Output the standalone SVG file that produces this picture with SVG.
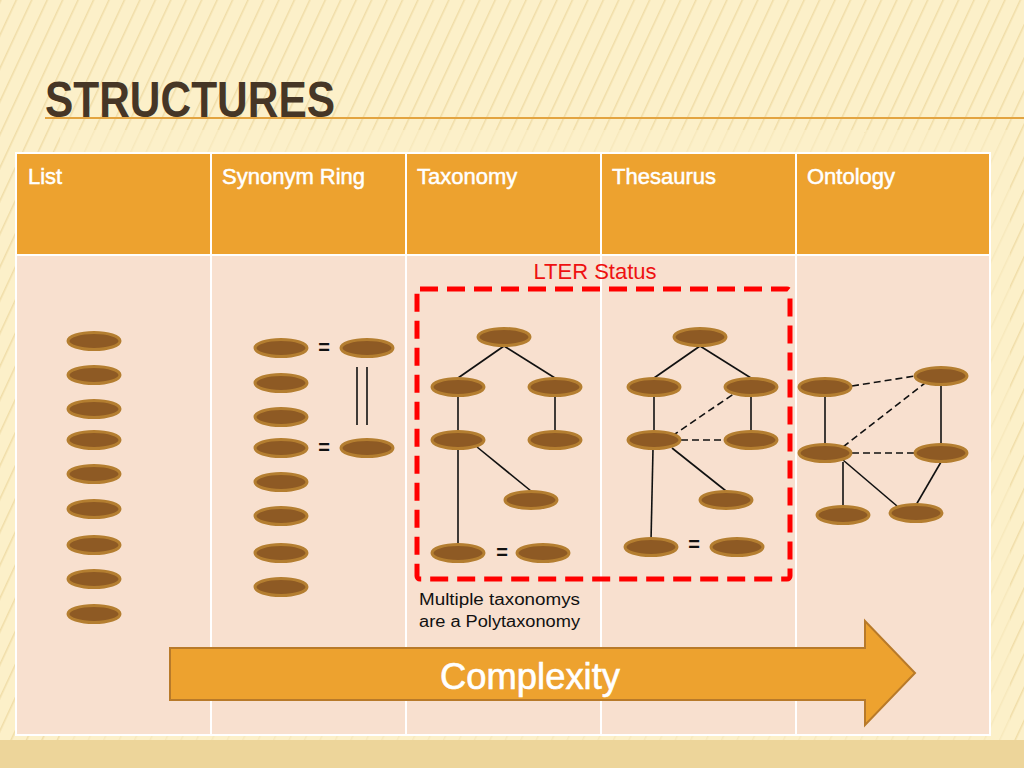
<svg xmlns="http://www.w3.org/2000/svg" width="1024" height="768" viewBox="0 0 1024 768">
<defs>
<pattern id="stripes" width="14" height="14" patternUnits="userSpaceOnUse" patternTransform="rotate(25)">
<rect width="14" height="14" fill="#FCF0C9"/>
<line x1="0" y1="0" x2="0" y2="14" stroke="#F0DDA8" stroke-width="3"/>
</pattern>
<style>
.node{fill:#8E5A24;stroke:#B47E30;stroke-width:3}
.hdr{font-family:"Liberation Sans",Arial,sans-serif;font-size:22px;fill:#FFFFFF;stroke:#FFFFFF;stroke-width:0.5}
.ln{stroke:#111;stroke-width:1.6;fill:none}
.dl{stroke:#111;stroke-width:1.6;fill:none;stroke-dasharray:7 4}
.eq{font-family:"Liberation Sans",Arial,sans-serif;font-size:20px;font-weight:bold;fill:#111;text-anchor:middle}
</style>
</defs>
<rect x="0" y="0" width="1024" height="768" fill="url(#stripes)"/>
<rect x="60" y="130" width="950" height="610" fill="#FCF0C9" opacity="0.6"/>
<rect x="0" y="740" width="1024" height="28" fill="#EDD59A"/>
<g id="title">
<line x1="45" y1="118" x2="1024" y2="118" stroke="#E3A440" stroke-width="2"/>
<text x="45" y="117" font-family="'Liberation Sans',Arial,sans-serif" font-weight="bold" font-size="50" fill="#463626" textLength="290" lengthAdjust="spacingAndGlyphs">STRUCTURES</text>
</g>
<g id="table">
<rect x="16" y="153" width="974" height="102" fill="#EDA22F"/>
<rect x="16" y="255" width="974" height="480" fill="#F8E0CF"/>
<g stroke="#FFFFFF" stroke-width="2">
<rect x="16" y="153" width="974" height="582" fill="none"/>
<line x1="16" y1="255" x2="990" y2="255"/>
<line x1="211" y1="153" x2="211" y2="735"/>
<line x1="406" y1="153" x2="406" y2="735"/>
<line x1="601" y1="153" x2="601" y2="735"/>
<line x1="796" y1="153" x2="796" y2="735"/>
</g>
<text class="hdr" x="28" y="184">List</text>
<text class="hdr" x="222" y="184">Synonym Ring</text>
<text class="hdr" x="417" y="184">Taxonomy</text>
<text class="hdr" x="612" y="184">Thesaurus</text>
<text class="hdr" x="807" y="184">Ontology</text>
</g>
<g id="connectors">
<line class="ln" x1="357" y1="367" x2="357" y2="425"/>
<line class="ln" x1="367" y1="367" x2="367" y2="425"/>
<line class="ln" x1="504" y1="346" x2="458" y2="378"/>
<line class="ln" x1="504" y1="346" x2="555" y2="378"/>
<line class="ln" x1="458" y1="396" x2="458" y2="431"/>
<line class="ln" x1="555" y1="396" x2="555" y2="431"/>
<line class="ln" x1="458" y1="449" x2="458" y2="545"/>
<line class="ln" x1="477" y1="447" x2="531" y2="491"/>
<line class="ln" x1="700" y1="346" x2="654" y2="378"/>
<line class="ln" x1="700" y1="346" x2="751" y2="378"/>
<line class="ln" x1="654" y1="396" x2="654" y2="431"/>
<line class="ln" x1="751" y1="396" x2="751" y2="431"/>
<line class="ln" x1="653" y1="449" x2="651" y2="541"/>
<line class="ln" x1="672" y1="448" x2="726" y2="491"/>
<line class="dl" x1="672" y1="436" x2="735" y2="393"/>
<line class="dl" x1="681" y1="440" x2="726" y2="440"/>
<line class="ln" x1="825" y1="396" x2="825" y2="444"/>
<line class="ln" x1="941" y1="385" x2="941" y2="444"/>
<line class="dl" x1="852" y1="386" x2="915" y2="376"/>
<line class="dl" x1="843" y1="447" x2="925" y2="383"/>
<line class="dl" x1="852" y1="453" x2="915" y2="453"/>
<line class="ln" x1="843" y1="462" x2="843" y2="506"/>
<line class="ln" x1="843" y1="460" x2="897" y2="506"/>
<line class="ln" x1="941" y1="462" x2="916" y2="505"/>
</g>
<g id="list">
<ellipse class="node" cx="94" cy="341" rx="26" ry="8.5"/>
<ellipse class="node" cx="94" cy="375" rx="26" ry="8.5"/>
<ellipse class="node" cx="94" cy="409" rx="26" ry="8.5"/>
<ellipse class="node" cx="94" cy="440" rx="26" ry="8.5"/>
<ellipse class="node" cx="94" cy="474" rx="26" ry="8.5"/>
<ellipse class="node" cx="94" cy="509" rx="26" ry="8.5"/>
<ellipse class="node" cx="94" cy="545" rx="26" ry="8.5"/>
<ellipse class="node" cx="94" cy="579" rx="26" ry="8.5"/>
<ellipse class="node" cx="94" cy="614" rx="26" ry="8.5"/>
</g>
<g id="synonym-ring">
<ellipse class="node" cx="281" cy="348" rx="26" ry="8.5"/>
<ellipse class="node" cx="281" cy="383" rx="26" ry="8.5"/>
<ellipse class="node" cx="281" cy="417" rx="26" ry="8.5"/>
<ellipse class="node" cx="281" cy="448" rx="26" ry="8.5"/>
<ellipse class="node" cx="281" cy="482" rx="26" ry="8.5"/>
<ellipse class="node" cx="281" cy="516" rx="26" ry="8.5"/>
<ellipse class="node" cx="281" cy="553" rx="26" ry="8.5"/>
<ellipse class="node" cx="281" cy="587" rx="26" ry="8.5"/>
<ellipse class="node" cx="367" cy="348" rx="26" ry="8.5"/>
<ellipse class="node" cx="367" cy="448" rx="26" ry="8.5"/>
<text class="eq" x="324" y="354">=</text>
<text class="eq" x="324" y="454">=</text>
</g>
<g id="taxonomy">
<ellipse class="node" cx="504" cy="337" rx="26" ry="8.5"/>
<ellipse class="node" cx="458" cy="387" rx="26" ry="8.5"/>
<ellipse class="node" cx="555" cy="387" rx="26" ry="8.5"/>
<ellipse class="node" cx="458" cy="440" rx="26" ry="8.5"/>
<ellipse class="node" cx="555" cy="440" rx="26" ry="8.5"/>
<ellipse class="node" cx="531" cy="500" rx="26" ry="8.5"/>
<ellipse class="node" cx="458" cy="553" rx="26" ry="8.5"/>
<ellipse class="node" cx="543" cy="553" rx="26" ry="8.5"/>
<text class="eq" x="502" y="559">=</text>
</g>
<g id="thesaurus">
<ellipse class="node" cx="700" cy="337" rx="26" ry="8.5"/>
<ellipse class="node" cx="654" cy="387" rx="26" ry="8.5"/>
<ellipse class="node" cx="751" cy="387" rx="26" ry="8.5"/>
<ellipse class="node" cx="654" cy="440" rx="26" ry="8.5"/>
<ellipse class="node" cx="751" cy="440" rx="26" ry="8.5"/>
<ellipse class="node" cx="726" cy="500" rx="26" ry="8.5"/>
<ellipse class="node" cx="651" cy="547" rx="26" ry="8.5"/>
<ellipse class="node" cx="737" cy="547" rx="26" ry="8.5"/>
<text class="eq" x="694" y="551">=</text>
</g>
<g id="ontology">
<ellipse class="node" cx="825" cy="387" rx="26" ry="8.5"/>
<ellipse class="node" cx="941" cy="376" rx="26" ry="8.5"/>
<ellipse class="node" cx="825" cy="453" rx="26" ry="8.5"/>
<ellipse class="node" cx="941" cy="453" rx="26" ry="8.5"/>
<ellipse class="node" cx="843" cy="515" rx="26" ry="8.5"/>
<ellipse class="node" cx="916" cy="513" rx="26" ry="8.5"/>
</g>
<g id="lter-status">
<rect x="417" y="289" width="373" height="290" rx="3" fill="none" stroke="#FF0000" stroke-width="5" stroke-dasharray="18 9"/>
<text x="595" y="279" font-family="'Liberation Sans',Arial,sans-serif" font-size="22" fill="#EE1111" text-anchor="middle">LTER Status</text>
</g>
<g id="note" font-family="'Liberation Sans',Arial,sans-serif" font-size="16" fill="#111">
<text x="419" y="605" textLength="161" lengthAdjust="spacingAndGlyphs">Multiple taxonomys</text>
<text x="419" y="627" textLength="161" lengthAdjust="spacingAndGlyphs">are a Polytaxonomy</text>
</g>
<g id="complexity">
<polygon points="170,648 865,648 865,621 915,673 865,725 865,700 170,700" fill="#EDA22F" stroke="#B87A2A" stroke-width="2"/>
<text x="530" y="689" font-family="'Liberation Sans',Arial,sans-serif" font-size="36" fill="#FFFFFF" stroke="#FFFFFF" stroke-width="0.6" text-anchor="middle" textLength="180" lengthAdjust="spacingAndGlyphs">Complexity</text>
</g>
</svg>
